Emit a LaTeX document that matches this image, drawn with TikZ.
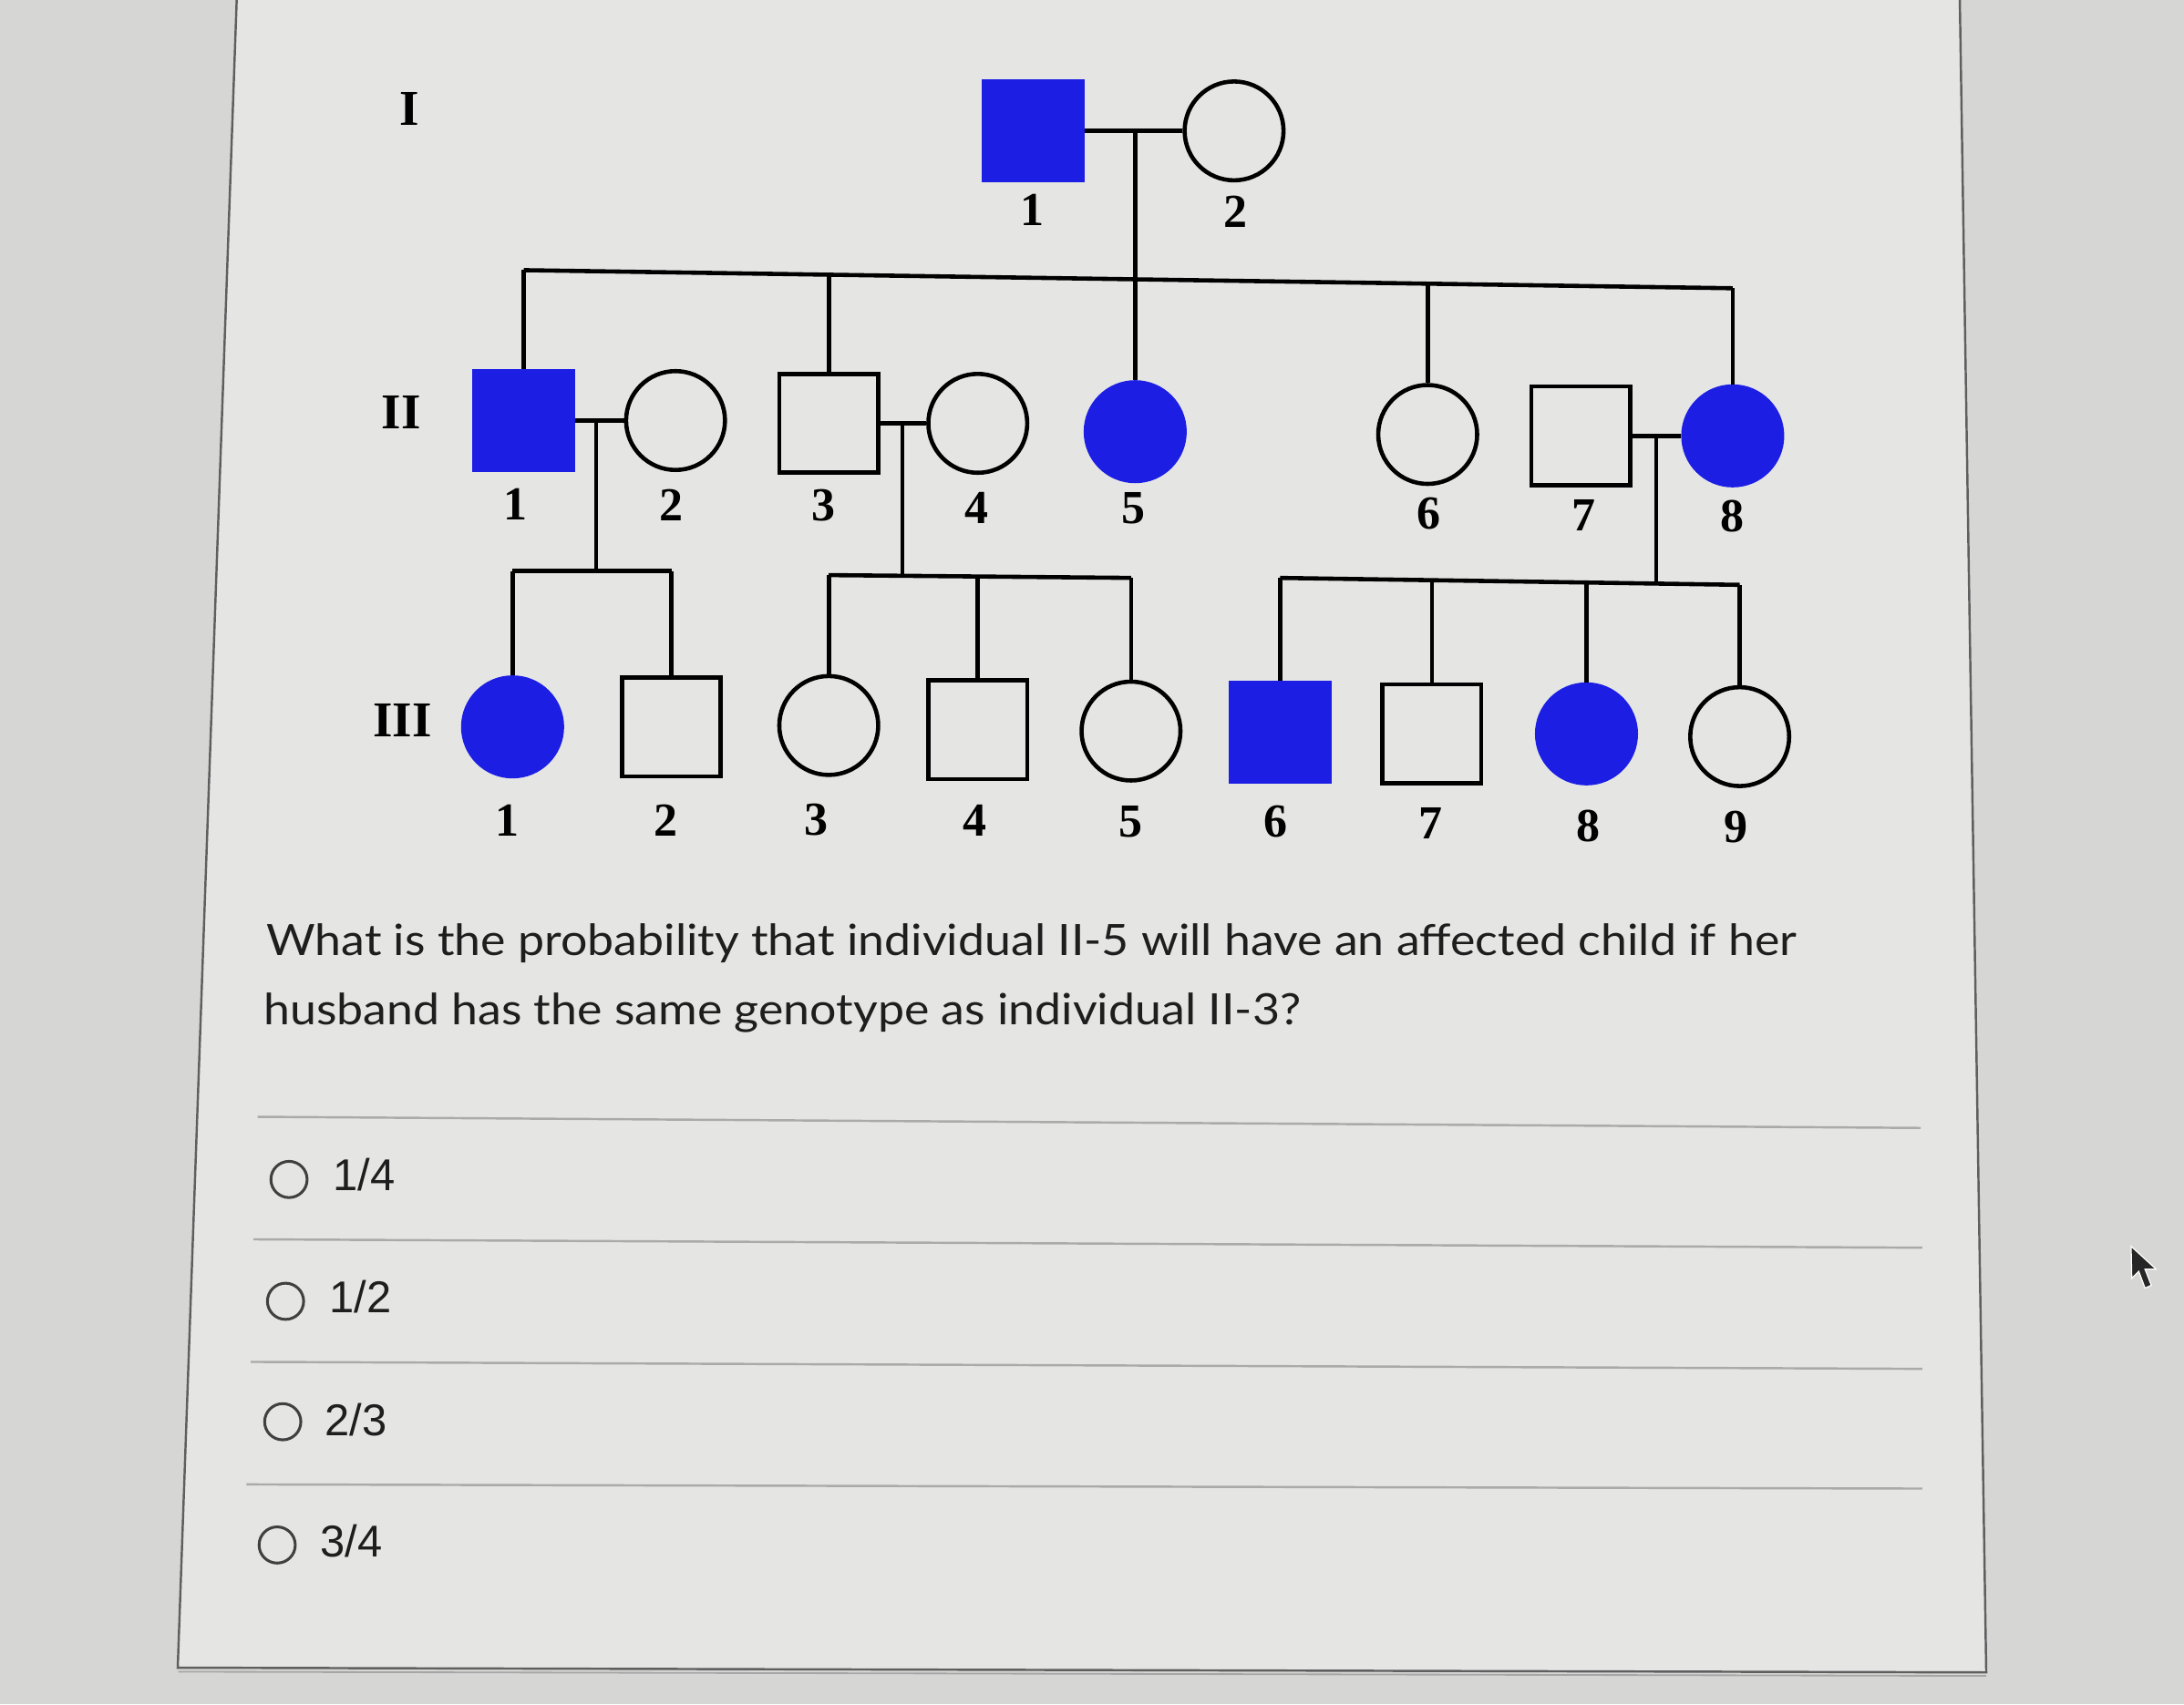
\documentclass[tikz,border=0pt]{standalone}
\usepackage{fontspec}
\newfontfamily\timesfont{Liberation Serif}
\newfontfamily\latofont[FakeStretch=1.095]{Lato}
\newfontfamily\arialfont{Liberation Sans}
\definecolor{pblue}{RGB}{28,30,228}
\definecolor{bgout}{RGB}{214,215,213}
\definecolor{bgin}{RGB}{229,230,228}
\definecolor{boxedge}{RGB}{95,95,95}
\definecolor{sepline}{RGB}{170,170,168}
\definecolor{qtext}{RGB}{30,30,30}
\begin{document}
\begin{tikzpicture}[x=1pt,y=-1pt,
  ind/.style={line width=3pt, minimum size=71pt, inner sep=0pt, draw=black},
  male/.style={ind, rectangle},
  female/.style={ind, circle},
  aff/.style={fill=pblue, draw=pblue},
  rel/.style={line width=3pt, draw=black},
  num/.style={font=\timesfont\bfseries\fontsize{34}{34}\selectfont, inner sep=0pt},
  gennum/.style={font=\timesfont\bfseries\fontsize{36}{36}\selectfont, inner sep=0pt},
  qtxt/.style={font=\latofont\fontsize{31}{31}\selectfont, text=qtext, inner sep=0pt, anchor=base west},
  opt/.style={font=\arialfont\fontsize{32}{32}\selectfont, text=qtext, inner sep=0pt, anchor=base west},
  radio/.style={circle, draw=black!75, line width=2pt, minimum size=26pt, inner sep=0pt},
  sepl/.style={draw=sepline, line width=1.6pt},
  boxl/.style={draw=boxedge, line width=1.6pt}
]
% background and card
\path[use as bounding box, fill=bgout] (0,0) rectangle (1568,1224);
\fill[bgin] (170,-2) -- (127.6,1197.6) -- (1426,1201) -- (1407,-2) -- cycle;
\draw[boxl] (170,-2) -- (127.6,1197.6) -- (1426,1201) -- (1407,-2);
\draw[draw=black!35, line width=1.2pt] (128,1200.5) -- (1426,1203.5);

% generation labels
\node[gennum] (gI) at (294,78) {I};
\node[gennum] (gII) at (288,296) {II};
\node[gennum] (gIII) at (289,517) {III};

% generation I
\node[male, aff] (I1) at (742,94) {};
\node[female] (I2) at (886,94) {};
\node[num] (lI1) at (741,151) {1};
\node[num] (lI2) at (887,152) {2};

% generation II
\node[male, aff] (II1) at (376,302) {};
\node[female] (II2) at (485,302) {};
\node[male] (II3) at (595,304) {};
\node[female] (II4) at (702,304) {};
\node[female, aff] (II5) at (815,310) {};
\node[female] (II6) at (1025,312) {};
\node[male] (II7) at (1135,313) {};
\node[female, aff] (II8) at (1244,313) {};
\node[num] (lII1) at (370,362) {1};
\node[num] (lII2) at (482,363) {2};
\node[num] (lII3) at (591,363) {3};
\node[num] (lII4) at (701,365) {4};
\node[num] (lII5) at (814,365) {5};
\node[num] (lII6) at (1026,369) {6};
\node[num] (lII7) at (1137,370) {7};
\node[num] (lII8) at (1244,371) {8};

% generation III
\node[female, aff] (III1) at (368,522) {};
\node[male] (III2) at (482,522) {};
\node[female] (III3) at (595,521) {};
\node[male] (III4) at (702,524) {};
\node[female] (III5) at (812,525) {};
\node[male, aff] (III6) at (919,526) {};
\node[male] (III7) at (1028,527) {};
\node[female, aff] (III8) at (1139,527) {};
\node[female] (III9) at (1249,529) {};
\node[num] (lIII1) at (364,589) {1};
\node[num] (lIII2) at (478,589) {2};
\node[num] (lIII3) at (586,589) {3};
\node[num] (lIII4) at (700,589) {4};
\node[num] (lIII5) at (812,590) {5};
\node[num] (lIII6) at (916,590) {6};
\node[num] (lIII7) at (1027,591) {7};
\node[num] (lIII8) at (1140,593) {8};
\node[num] (lIII9) at (1246,594) {9};

% connectors: generation I
\coordinate (m1) at (815,94);
\coordinate (s1) at (376,194);
\coordinate (s3) at (595,197.3);
\coordinate (s5) at (815,200.6);
\coordinate (s6) at (1025,203.7);
\coordinate (s8) at (1244,207);
\draw[rel] (I1.east) -- (I2.west);
\draw[rel] (m1) -- (s5);
\draw[rel] (s1) -- (s8);
\draw[rel] (s1) -- (II1.north);
\draw[rel] (s3) -- (II3.north);
\draw[rel] (s5) -- (II5.north);
\draw[rel] (s6) -- (II6.north);
\draw[rel] (s8) -- (II8.north);

% II-1 x II-2
\coordinate (m2) at (428,302);
\coordinate (a0) at (428,410);
\coordinate (a1) at (368,410);
\coordinate (a2) at (482,410);
\draw[rel] (II1.east) -- (II2.west);
\draw[rel] (m2) -- (a0);
\draw[rel] (a1) -- (a2);
\draw[rel] (a1) -- (III1.north);
\draw[rel] (a2) -- (III2.north);

% II-3 x II-4
\coordinate (m3) at (648,304);
\coordinate (b0) at (648,413.5);
\coordinate (b3) at (595,413);
\coordinate (b4) at (702,414);
\coordinate (b5) at (812,415);
\draw[rel] (II3.east) -- (II4.west);
\draw[rel] (m3) -- (b0);
\draw[rel] (b3) -- (b5);
\draw[rel] (b3) -- (III3.north);
\draw[rel] (b4) -- (III4.north);
\draw[rel] (b5) -- (III5.north);

% II-7 x II-8
\coordinate (m4) at (1189,313);
\coordinate (c0) at (1189,418);
\coordinate (c6) at (919,415);
\coordinate (c7) at (1028,416.5);
\coordinate (c8) at (1139,418);
\coordinate (c9) at (1249,420);
\draw[rel] (II7.east) -- (II8.west);
\draw[rel] (m4) -- (c0);
\draw[rel] (c6) -- (c9);
\draw[rel] (c6) -- (III6.north);
\draw[rel] (c7) -- (III7.north);
\draw[rel] (c8) -- (III8.north);
\draw[rel] (c9) -- (III9.north);

% question
\node[qtxt] (q1) at (191,686) {What is the probability that individual II-5 will have an affected child if her};
\node[qtxt] (q2) at (189,736) {husband has the same genotype as individual II-3?};

% separators
\draw[sepl] (185,802) -- (1379,810);
\draw[sepl] (182,890) -- (1380,896);
\draw[sepl] (180,978) -- (1380,983);
\draw[sepl] (177,1066) -- (1380,1069);

% options
\node[radio] (r1) at (207.5,847) {};
\node[radio] (r2) at (205,934.5) {};
\node[radio] (r3) at (203,1021) {};
\node[radio] (r4) at (199,1109.5) {};
\node[opt] (o1) at (239,855) {1/4};
\node[opt] (o2) at (236.5,943) {1/2};
\node[opt] (o3) at (233,1031) {2/3};
\node[opt] (o4) at (230,1118) {3/4};

% mouse cursor
\filldraw[fill=black!85, draw=white, line width=0.8pt] (1530,895) -- (1530.5,918) -- (1535.5,913) -- (1540,925) -- (1544.5,923) -- (1540,911.5) -- (1548,911.5) -- cycle;
\end{tikzpicture}
\end{document}
